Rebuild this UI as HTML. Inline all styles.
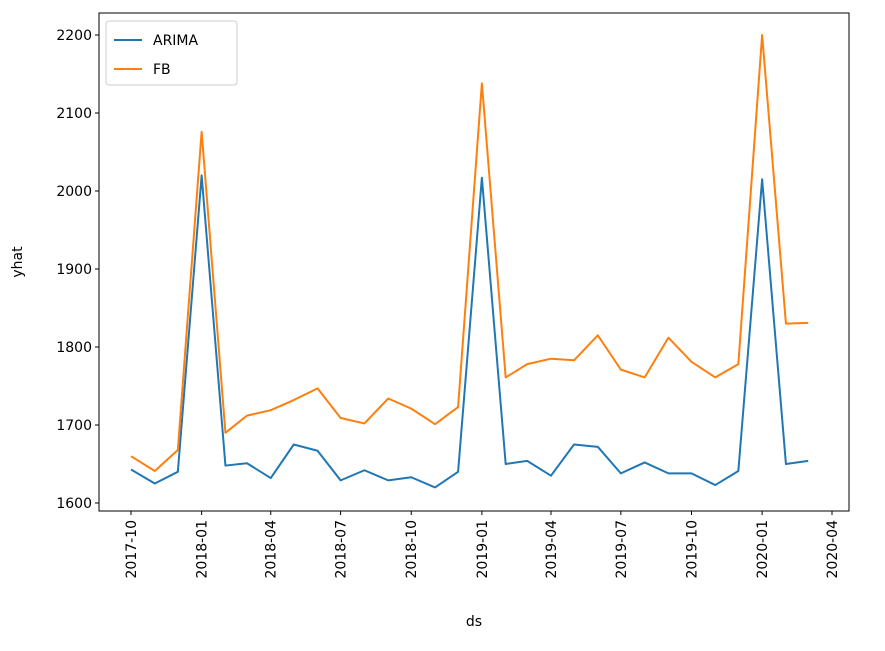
<!DOCTYPE html>
<html><head><meta charset="utf-8"><style>
body{margin:0;background:#fff;font-family:"Liberation Sans","DejaVu Sans",sans-serif}
text{font-family:"DejaVu Sans","Liberation Sans",sans-serif;font-size:14px;fill:#000}
</style></head><body>
<svg id="c" width="885" height="646"></svg>
<script>
const months=["2017-10","2017-11","2017-12","2018-01","2018-02","2018-03","2018-04","2018-05","2018-06","2018-07","2018-08","2018-09","2018-10","2018-11","2018-12","2019-01","2019-02","2019-03","2019-04","2019-05","2019-06","2019-07","2019-08","2019-09","2019-10","2019-11","2019-12","2020-01","2020-02","2020-03"];
const arima=[1643,1625,1640,2020,1648,1651,1632,1675,1667,1629,1642,1629,1633,1620,1640,2017,1650,1654,1635,1675,1672,1638,1652,1638,1638,1623,1641,2015,1650,1654];
const fb=[1660,1641,1668,2076,1690,1712,1719,1732,1747,1709,1702,1734,1721,1701,1723,2138,1761,1778,1785,1783,1815,1771,1761,1812,1781,1761,1778,2200,1830,1831];
const xTicks=["2017-10","2018-01","2018-04","2018-07","2018-10","2019-01","2019-04","2019-07","2019-10","2020-01","2020-04"];
const yTicks=[1600,1700,1800,1900,2000,2100,2200];
const NS="http://www.w3.org/2000/svg",svg=document.getElementById('c');
const L=99,R=849,T=13,B=511;
const d0=Date.UTC(2017,9,1),d1=Date.UTC(2020,3,1);
function day(s){const p=s.split('-');return Date.UTC(+p[0],+p[1]-1,1);}
function X(s){return 131+(day(s)-d0)/(d1-d0)*(832-131);}
function Y(v){return 503-(v-1600)*0.78;}
function el(t,a){const e=document.createElementNS(NS,t);for(const k in a)e.setAttribute(k,a[k]);svg.appendChild(e);return e;}
let e=el('rect',{x:L,y:T,width:R-L,height:B-T,fill:'#fff',stroke:'#000','stroke-width':1});


yTicks.forEach(v=>{const y=Y(v);
let t=el('line',{x1:L-4,x2:L,y1:y,y2:y,stroke:'#000'});


let tx=el('text',{x:L-7,y:y+5,'text-anchor':'end'});tx.textContent=v;

});
xTicks.forEach(s=>{const x=X(s);
let t=el('line',{x1:x,x2:x,y1:B,y2:B+4,stroke:'#000'});


let tx=el('text',{x:x+5,y:B+9,'text-anchor':'end','font-size':'16',transform:`rotate(-90 ${x+5} ${B+9})`});tx.textContent=s;

});
function series(vals,col,name){const p=el('polyline',{points:vals.map((v,i)=>X(months[i])+','+Y(v)).join(' '),fill:'none',stroke:col,'stroke-width':2,'stroke-linejoin':'round'});

}
series(arima,'#1f77b4','arima-line');
series(fb,'#ff7f0e','fb-line');
let xl=el('text',{x:474,y:626,'text-anchor':'middle'});xl.textContent='ds';


let yl=el('text',{x:22,y:262,'text-anchor':'middle',transform:'rotate(-90 22 262)'});yl.textContent='yhat';


let lg=el('rect',{x:106,y:21,width:131,height:64,rx:3,fill:'#fff',stroke:'#ccc'});


[['ARIMA','#1f77b4',40],['FB','#ff7f0e',69]].forEach(([n,c,y])=>{
let l=el('line',{x1:114,x2:142,y1:y,y2:y,stroke:c,'stroke-width':2});


let t=el('text',{x:153,y:y+5});t.textContent=n;

});
</script>
</body></html>
